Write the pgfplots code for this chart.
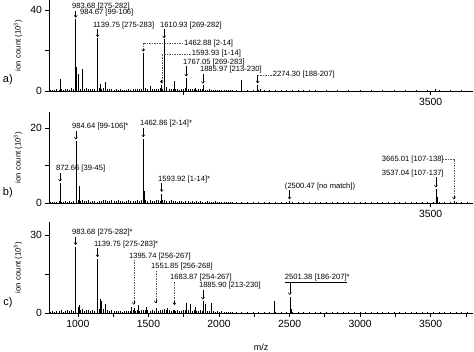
\documentclass[border=0pt]{standalone}
\usepackage{pgfplots}
\pgfplotsset{compat=1.18}
\usepackage{pgfplotstable}
\usepackage{fontspec}
\setmainfont{Liberation Sans}
\usetikzlibrary{arrows.meta}

\pgfplotstableread{
x a b
805 0.4 0.3
820 0.7 0.2
835 0.5 0.4
850 0.9 0.3
865 0.6 0.5
880 1.0 0.3
895 0.5 0.4
910 0.8 0.6
925 1.1 0.3
940 0.6 0.5
955 1.3 0.4
970 0.9 0.6
1000 1.5 0.7
1015 1.1 0.5
1030 1.4 0.8
1045 0.9 0.6
1060 1.3 0.5
1075 1.0 0.7
1090 0.8 0.4
1105 1.2 0.6
1120 0.9 0.5
1135 1.1 0.4
1150 1.6 0.6
1165 1.2 0.5
1180 1.4 0.7
1195 1.0 0.8
1210 1.2 0.6
1225 0.8 0.5
1240 1.0 0.7
1255 0.7 0.5
1270 0.9 0.6
1285 0.6 0.8
1300 0.8 0.5
1315 0.5 0.6
1330 0.7 0.4
1345 0.6 0.5
1360 0.9 0.7
1375 0.7 0.5
1390 1.0 0.6
1405 0.8 0.5
1420 1.1 0.7
1435 0.9 0.6
1450 1.2 0.8
1465 1.0 0.7
1480 1.3 0.9
1495 1.1 0.6
1510 0.9 0.7
1525 1.2 0.5
1540 0.8 0.6
1555 1.0 0.7
1570 0.9 0.8
1585 1.3 0.6
1600 1.1 0.9
1615 1.4 0.7
1630 1.0 0.6
1645 1.2 0.5
1660 0.9 0.7
1675 1.1 0.5
1690 0.8 0.6
1705 1.0 0.4
1720 0.7 0.5
1735 0.9 0.6
1750 1.1 0.4
1765 1.3 0.5
1780 1.0 0.6
1795 0.8 0.4
1810 0.9 0.5
1825 1.1 0.3
1840 0.7 0.5
1855 0.8 0.4
1870 1.0 0.5
1885 0.9 0.3
1900 0.7 0.4
1915 0.6 0.5
1930 0.8 0.3
1945 0.5 0.4
1960 0.7 0.3
1975 0.5 0.5
1990 0.6 0.3
2005 0.4 0.4
2020 0.6 0.3
2035 0.4 0.4
2050 0.5 0.3
2065 0.4 0.2
2080 0.5 0.4
2095 0.3 0.3
2120 0.5 0.3
2160 0.4 0.2
2200 0.5 0.3
2240 0.4 0.2
2280 0.5 0.3
2320 0.3 0.2
2360 0.4 0.3
2400 0.5 0.2
2440 0.3 0.3
2480 0.4 0.2
2520 0.5 0.3
2560 0.3 0.2
2600 0.4 0.3
2640 0.3 0.2
2680 0.4 0.3
2720 0.2 0.2
2760 0.3 0.3
2800 0.2 0.2
2840 0.3 0.3
2880 0.2 0.2
2920 0.3 0.3
2960 0.2 0.2
3000 0.3 0.3
3040 0.2 0.2
3080 0.3 0.3
3120 0.2 0.2
3160 0.3 0.3
3200 0.2 0.2
3240 0.3 0.3
3280 0.2 0.2
3320 0.3 0.3
3360 0.2 0.2
3400 0.3 0.3
3440 0.2 0.2
3480 0.3 0.3
3520 0.2 0.2
3560 0.3 0.3
3600 0.2 0.2
3640 0.3 0.3
3680 0.2 0.2
3720 0.3 0.3
3760 0.2 0.2
}\noise

\pgfplotstableread{
x y
872 5.8
983.68 35.5
985.7 12
1003 8.5
1031 11
1139.75 26
1155 3.5
1195 4.3
1462.88 18.8
1478 1.5
1515 2.5
1593.93 3
1610.93 25.5
1625 2
1680 5
1767.05 6.6
1830 1.5
1885.97 2.8
2158 5.2
2274.30 3
2290 1.2
3530 1.0
}\peaksa

\pgfplotstableread{
x y
872.66 5.3
984.64 16.5
1006 4.5
1462.86 17
1470 3.2
1593.92 2.3
2500.47 0.6
3537.04 3.8
3545 1.5
3665.01 0.6
}\peaksb

\pgfplotstableread{
x y
983.68 25.5
1000 2.5
1012 3
1139.75 20.8
1155 5.5
1168 4.5
1196 3.5
1375 2.5
1395.74 2
1430 3
1482 2.5
1551.85 2
1635 2
1683.87 1.2
1770 4
1793 3.5
1831 2.5
1885.90 4.5
1904 3.5
1944 4
2388 4.5
2501.38 6
2515 1.5
}\peaksc

\pgfplotsset{
  panel/.style={
    scale only axis, width=424pt, height=91pt,
    xmin=795, xmax=3800, ymin=0,
    axis x line=bottom, axis y line=left,
    axis line style={-, line width=0.9pt},
    tick align=outside, major tick length=3.5pt, minor tick length=3.5pt,
    tick style={black, line width=0.7pt},
    ticklabel style={font=\fontsize{10.4}{12}\selectfont},
    /pgf/number format/assume math mode=true,
    /pgf/number format/1000 sep={},
    ylabel={ion count (10\textsuperscript{3})},
    ylabel style={font=\fontsize{7.8}{9}\selectfont, at={(axis description cs:-0.073,0.5)}, anchor=center},
    clip=false,
    anchor=south west,
  },
  spec/.style={ycomb, black, line width=0.5pt, no markers},
  noisy/.style={ycomb, black, line width=0.75pt, no markers},
}
\tikzset{
  ann/.style={font=\fontsize{7.6}{9}\selectfont, anchor=west, inner sep=0pt},
  arr/.style={-{To[length=2.5pt,width=3.5pt]}, line width=0.5pt},
  dsh/.style={dash pattern=on 1.5pt off 1pt, line width=0.45pt, black!65},
}

\begin{document}
\begin{tikzpicture}
\useasboundingbox (0,0) rectangle (474pt,-351pt);

% ---------- panel a ----------
\begin{axis}[panel, at={(49pt,-91pt)}, ymax=45,
  ytick={0,40}, minor ytick={20}, xtick={3500}, minor xtick={1750}]
\addplot[noisy] table[x=x,y=a] {\noise};
\addplot[spec] table[x=x,y=y] {\peaksa};
\node[font=\fontsize{11}{13}\selectfont] at (axis description cs:-0.097,0.12) {a)};
\node[ann] at (958,42.0) {983.68 [275-282]};
\draw[arr] (983.68,39.6) -- (983.68,36.3);
\node[ann] at (1014,38.6) {984.67 [99-106]};
\node[ann] at (1106,32.6) {1139.75 [275-283]};
\draw[arr] (1139.75,30.6) -- (1139.75,26.7);
\node[ann] at (1581,32.6) {1610.93 [269-282]};
\draw[arr] (1610.93,30.6) -- (1610.93,26.2);
\node[ann] at (1751,23.7) {1462.88 [2-14]};
\draw[dsh] (1745,23.7) -- (1462.88,23.7) -- (1462.88,20.5);
\draw[arr] (1462.88,21) -- (1462.88,19.5);
\node[ann] at (1807,18.3) {1593.93 [1-14]};
\draw[dsh] (1800,18.3) -- (1593.93,18.3) -- (1593.93,5);
\draw[arr] (1593.93,5.5) -- (1593.93,3.8);
\node[ann] at (1744,14.3) {1767.05 [269-283]};
\draw[arr] (1767.05,12.4) -- (1767.05,7.2);
\node[ann] at (1864,10.4) {1885.97 [213-230]};
\draw[arr] (1885.97,8.4) -- (1885.97,3.6);
\node[ann] at (2381,7.9) {2274.30 [188-207]};
\draw[dsh] (2375,7.9) -- (2274.30,7.9);
\draw[arr] (2274.30,7.9) -- (2274.30,3.8);
\end{axis}

% ---------- panel b ----------
\begin{axis}[panel, at={(49pt,-203pt)}, ymax=24.3,
  ytick={0,20}, minor ytick={10}, xtick={3500}]
\addplot[noisy] table[x=x,y=b] {\noise};
\addplot[spec] table[x=x,y=y] {\peaksb};
\node[font=\fontsize{11}{13}\selectfont] at (axis description cs:-0.097,0.11) {b)};
\node[ann] at (958,20.3) {984.64 [99-106]*};
\draw[arr] (984.64,19.2) -- (984.64,17.0);
\node[ann] at (1439,21.3) {1462.86 [2-14]*};
\draw[arr] (1462.86,20.0) -- (1462.86,17.6);
\node[ann] at (844,9.1) {872.66 [39-45]};
\draw[arr] (872.66,8.0) -- (872.66,5.8);
\node[ann] at (1567,6.4) {1593.92 [1-14]*};
\draw[arr] (1593.92,5.3) -- (1593.92,3.0);
\node[ann] at (2466,4.5) {(2500.47 [no match])};
\draw[arr] (2500.47,3.5) -- (2500.47,1.0);
\node[ann] at (3153,11.7) {3665.01 [107-138]};
\draw[dsh] (3585,11.7) -- (3665.01,11.7) -- (3665.01,1.6);
\draw[arr] (3665.01,1.8) -- (3665.01,1.0);
\node[ann] at (3153,8.0) {3537.04 [107-137]};
\draw[arr] (3537.04,6.9) -- (3537.04,4.2);
\end{axis}

% ---------- panel c ----------
\begin{axis}[panel, at={(49pt,-313pt)}, ymax=35,
  ytick={0,30}, minor ytick={15},
  xtick={1000,1500,2000,2500,3000,3500},
  minor xtick={1250,1750,2250,2750,3250,3750},
  xlabel={m/z},
  xlabel style={font=\fontsize{9}{11}\selectfont, at={(axis description cs:0.5,-0.374)}, anchor=center}]
\addplot[noisy] table[x=x,y=a] {\noise};
\addplot[spec] table[x=x,y=y] {\peaksc};
\node[font=\fontsize{11}{13}\selectfont] at (axis description cs:-0.097,0.11) {c)};
\node[ann] at (958,30.8) {983.68 [275-282]*};
\draw[arr] (983.68,29.2) -- (983.68,26.2);
\node[ann] at (1113,26.5) {1139.75 [275-283]*};
\draw[arr] (1139.75,25.0) -- (1139.75,21.5);
\node[ann] at (1361,21.9) {1395.74 [256-267]};
\draw[dsh] (1395.74,20.4) -- (1395.74,4.0);
\draw[arr] (1395.74,4.5) -- (1395.74,3.2);
\node[ann] at (1517,17.7) {1551.85 [256-268]};
\draw[dsh] (1551.85,16.2) -- (1551.85,4.5);
\draw[arr] (1551.85,5.0) -- (1551.85,3.8);
\node[ann] at (1652,13.5) {1683.87 [254-267]};
\draw[dsh] (1683.87,11.9) -- (1683.87,4.0);
\draw[arr] (1683.87,4.5) -- (1683.87,3.1);
\node[ann] at (1857,10.4) {1885.90 [213-230]};
\draw[arr] (1885.90,8.8) -- (1885.90,5.2);
\node[ann] at (2466,13.8) {2501.38 [186-207]*};
\draw[line width=0.4pt] (2466,11.9) -- (2905,11.9);
\draw[arr] (2501.38,11.9) -- (2501.38,7.0);
\end{axis}
\end{tikzpicture}
\end{document}
